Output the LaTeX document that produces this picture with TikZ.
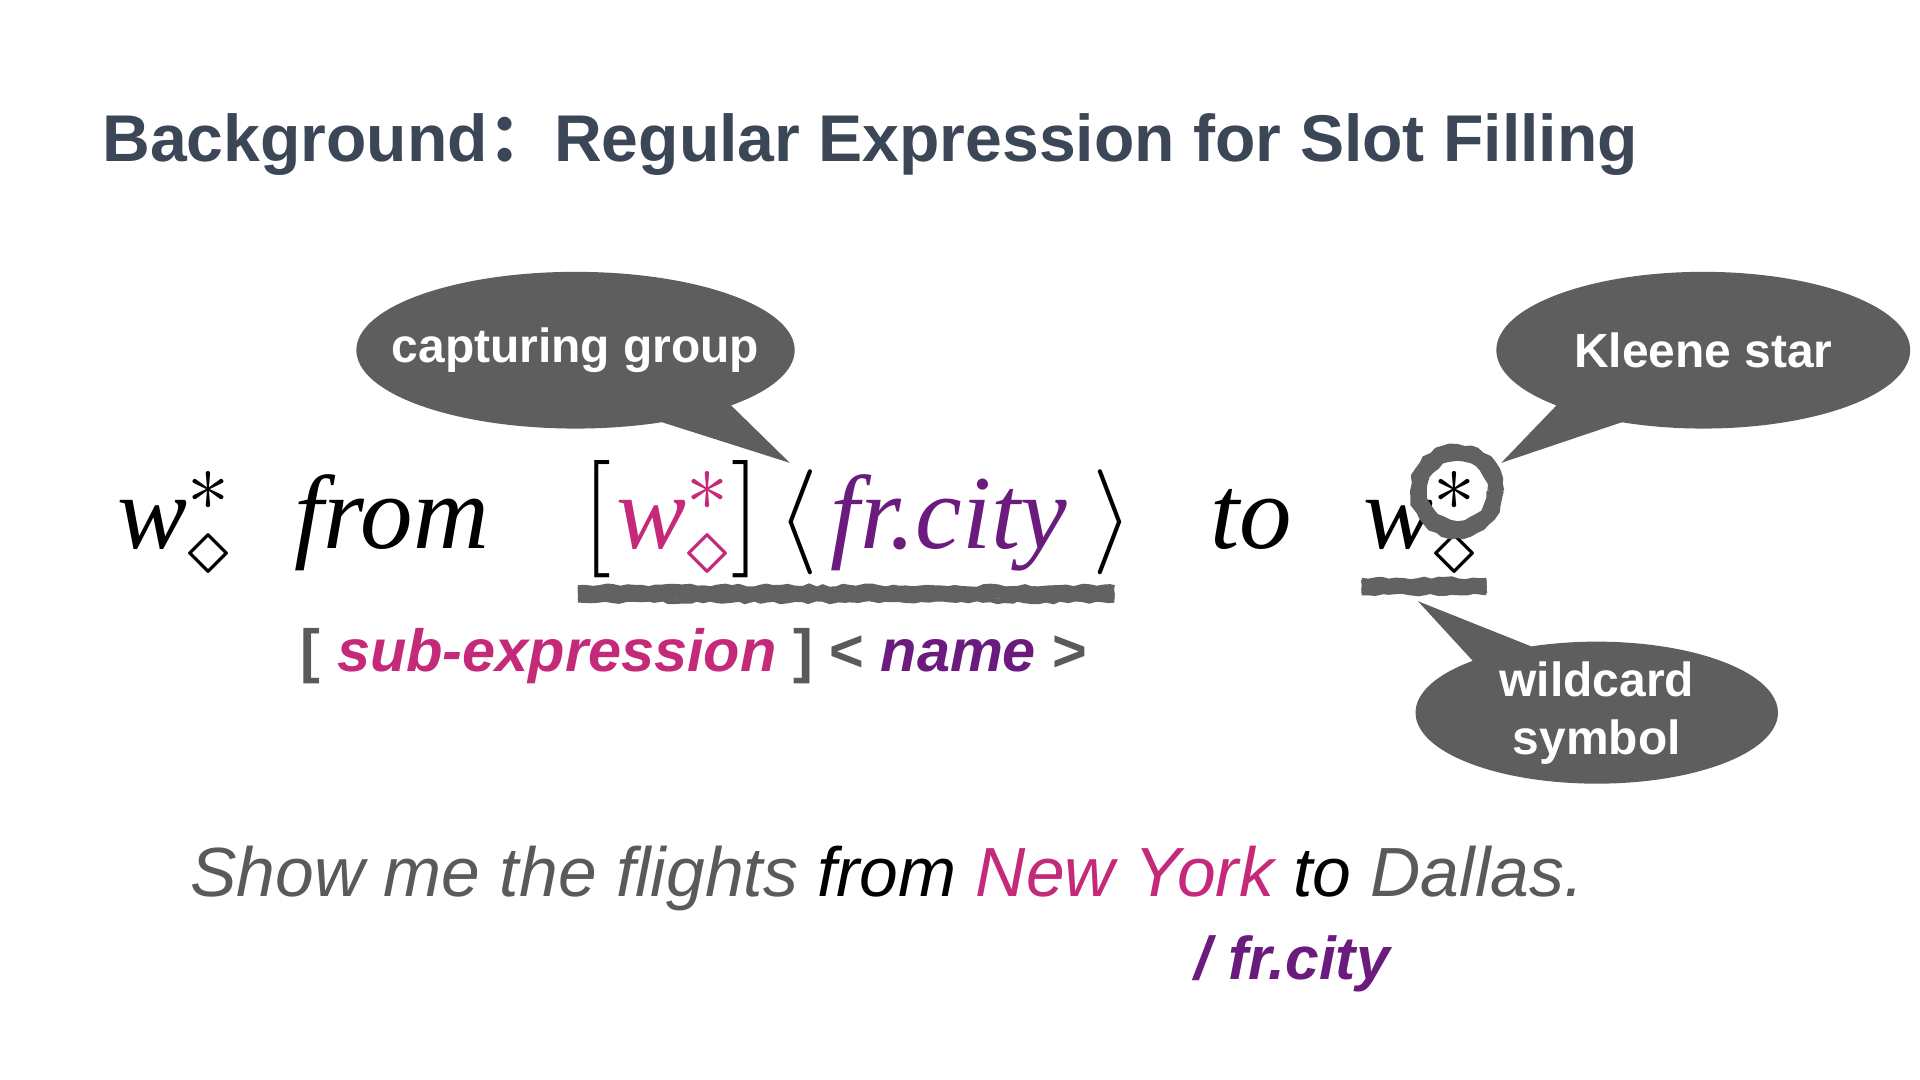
\RequirePackage{fix-cm}
\documentclass[tikz,border=0pt]{standalone}
\usepackage{amsmath}
\usepackage{amssymb}
\usepackage{fontspec}
\setmainfont{Liberation Serif}
\setsansfont{Liberation Sans}
\newfontfamily\cjk{Noto Sans CJK SC}
\usepackage{tikz}
\usetikzlibrary{shapes.callouts,decorations.pathmorphing}

\definecolor{titlecol}{RGB}{59,70,86}
\definecolor{bubblegray}{RGB}{94,94,94}
\definecolor{chalkgray}{RGB}{98,98,98}
\definecolor{subcol}{RGB}{196,42,121}
\definecolor{namecol}{RGB}{107,26,126}
\definecolor{textgray}{RGB}{90,90,90}

\DeclareMathSizes{30}{30}{24}{18}
\newlength{\dpx}
\setlength{\dpx}{0.35pt}
\newcommand{\wdia}{\mbox{\itshape w}^{*}_{\diamond}}

\begin{document}
\begin{tikzpicture}[x=\dpx,y=-\dpx,
  every node/.style={inner sep=0pt},
  bubble/.style={ellipse callout, fill=bubblegray, callout pointer arc=22},
  bubbletext/.style={text=white, align=center, font=\sffamily\bfseries\fontsize{13.7}{16.6}\selectfont},
  mathtok/.style={anchor=base west, font=\fontsize{30}{36}\selectfont},
  chalk/.style={draw=chalkgray, line width=1.5pt, decorate, decoration={random steps, segment length=2pt, amplitude=0.45pt}}]
\pgfmathsetseed{7}
\fill[white] (0,0) rectangle (1568,882);
\useasboundingbox (0,0) rectangle (1568,882);

\node[anchor=base west, text=titlecol, font=\sffamily\bfseries\fontsize{18.9}{22}\selectfont] (title) at (83,132) {Background{\cjk ：}Regular Expression for Slot Filling};

% regular expression
\node[mathtok] (wa) at (95,448) {$\wdia$};
\node[mathtok] (from) at (240,448) {\itshape from};
\node[mathtok] (lbr) at (475,448) {\scalebox{1.1}[1.12]{$[$}};
\node[mathtok, text=subcol] (wb) at (503,448) {$\wdia$};
\node[mathtok] (rbr) at (597,448) {\scalebox{1.1}[1.12]{$]$}};
\node[mathtok] (lang) at (634,448) {$\langle$};
\node[mathtok, text=namecol] (city) at (678,448) {\itshape fr.city};
\node[mathtok] (rang) at (892,448) {$\rangle$};
\node[mathtok] (to) at (988,448) {\itshape to};
\node[mathtok] (wc) at (1113,448) {$\wdia$};

% marker strokes
\foreach \d in {-5,-3,...,5}
  \draw[chalk] (472,485+\d) -- (910,485+\d);
\foreach \d in {-5,-3,...,5}
  \draw[chalk] (1112,479+\d) -- (1214,479+\d);
\coordinate (starc) at (1190,401);
\foreach \r in {26,28,...,36}
  \draw[chalk] (starc) circle [radius=\r];

% callouts
\coordinate (captip) at (645,378);
\coordinate (kltip) at (1226,378);
\coordinate (wildtip) at (1158,491);
\node[bubble, minimum width=358*\dpx, minimum height=128*\dpx, callout absolute pointer={(captip)}] (captbub) at (470,286) {};
\node[bubbletext] (capt) at (captbub.center) {capturing group};
\node[bubble, minimum width=338*\dpx, minimum height=128*\dpx, callout absolute pointer={(kltip)}] (klbub) at (1391,286) {};
\node[bubbletext] (kleene) at (klbub.center) {Kleene star};
\node[bubble, minimum width=296*\dpx, minimum height=116*\dpx, callout absolute pointer={(wildtip)}] (wildbub) at (1304,582) {};
\node[bubbletext] (wild) at (wildbub.center) {wildcard\\symbol};

\node[anchor=base west, font=\sffamily\bfseries\fontsize{17}{20}\selectfont] (subexp) at (245,548)
  {\textcolor{textgray}{[} \textcolor{subcol}{\itshape sub-expression} \textcolor{textgray}{] <} \textcolor{namecol}{\itshape name} \textcolor{textgray}{>}};

% example sentence
\node[anchor=base west, text=textgray, font=\sffamily\itshape\fontsize{19.9}{24}\selectfont] (sent) at (155,732)
  {Show me the flights \textcolor{black}{from} \textcolor{subcol}{New York} \textcolor{black}{to} Dallas.};
\node[anchor=base west, text=namecol, font=\sffamily\bfseries\itshape\fontsize{17.3}{20}\selectfont] (slot) at (975,800) {/ fr.city};
\end{tikzpicture}
\end{document}
